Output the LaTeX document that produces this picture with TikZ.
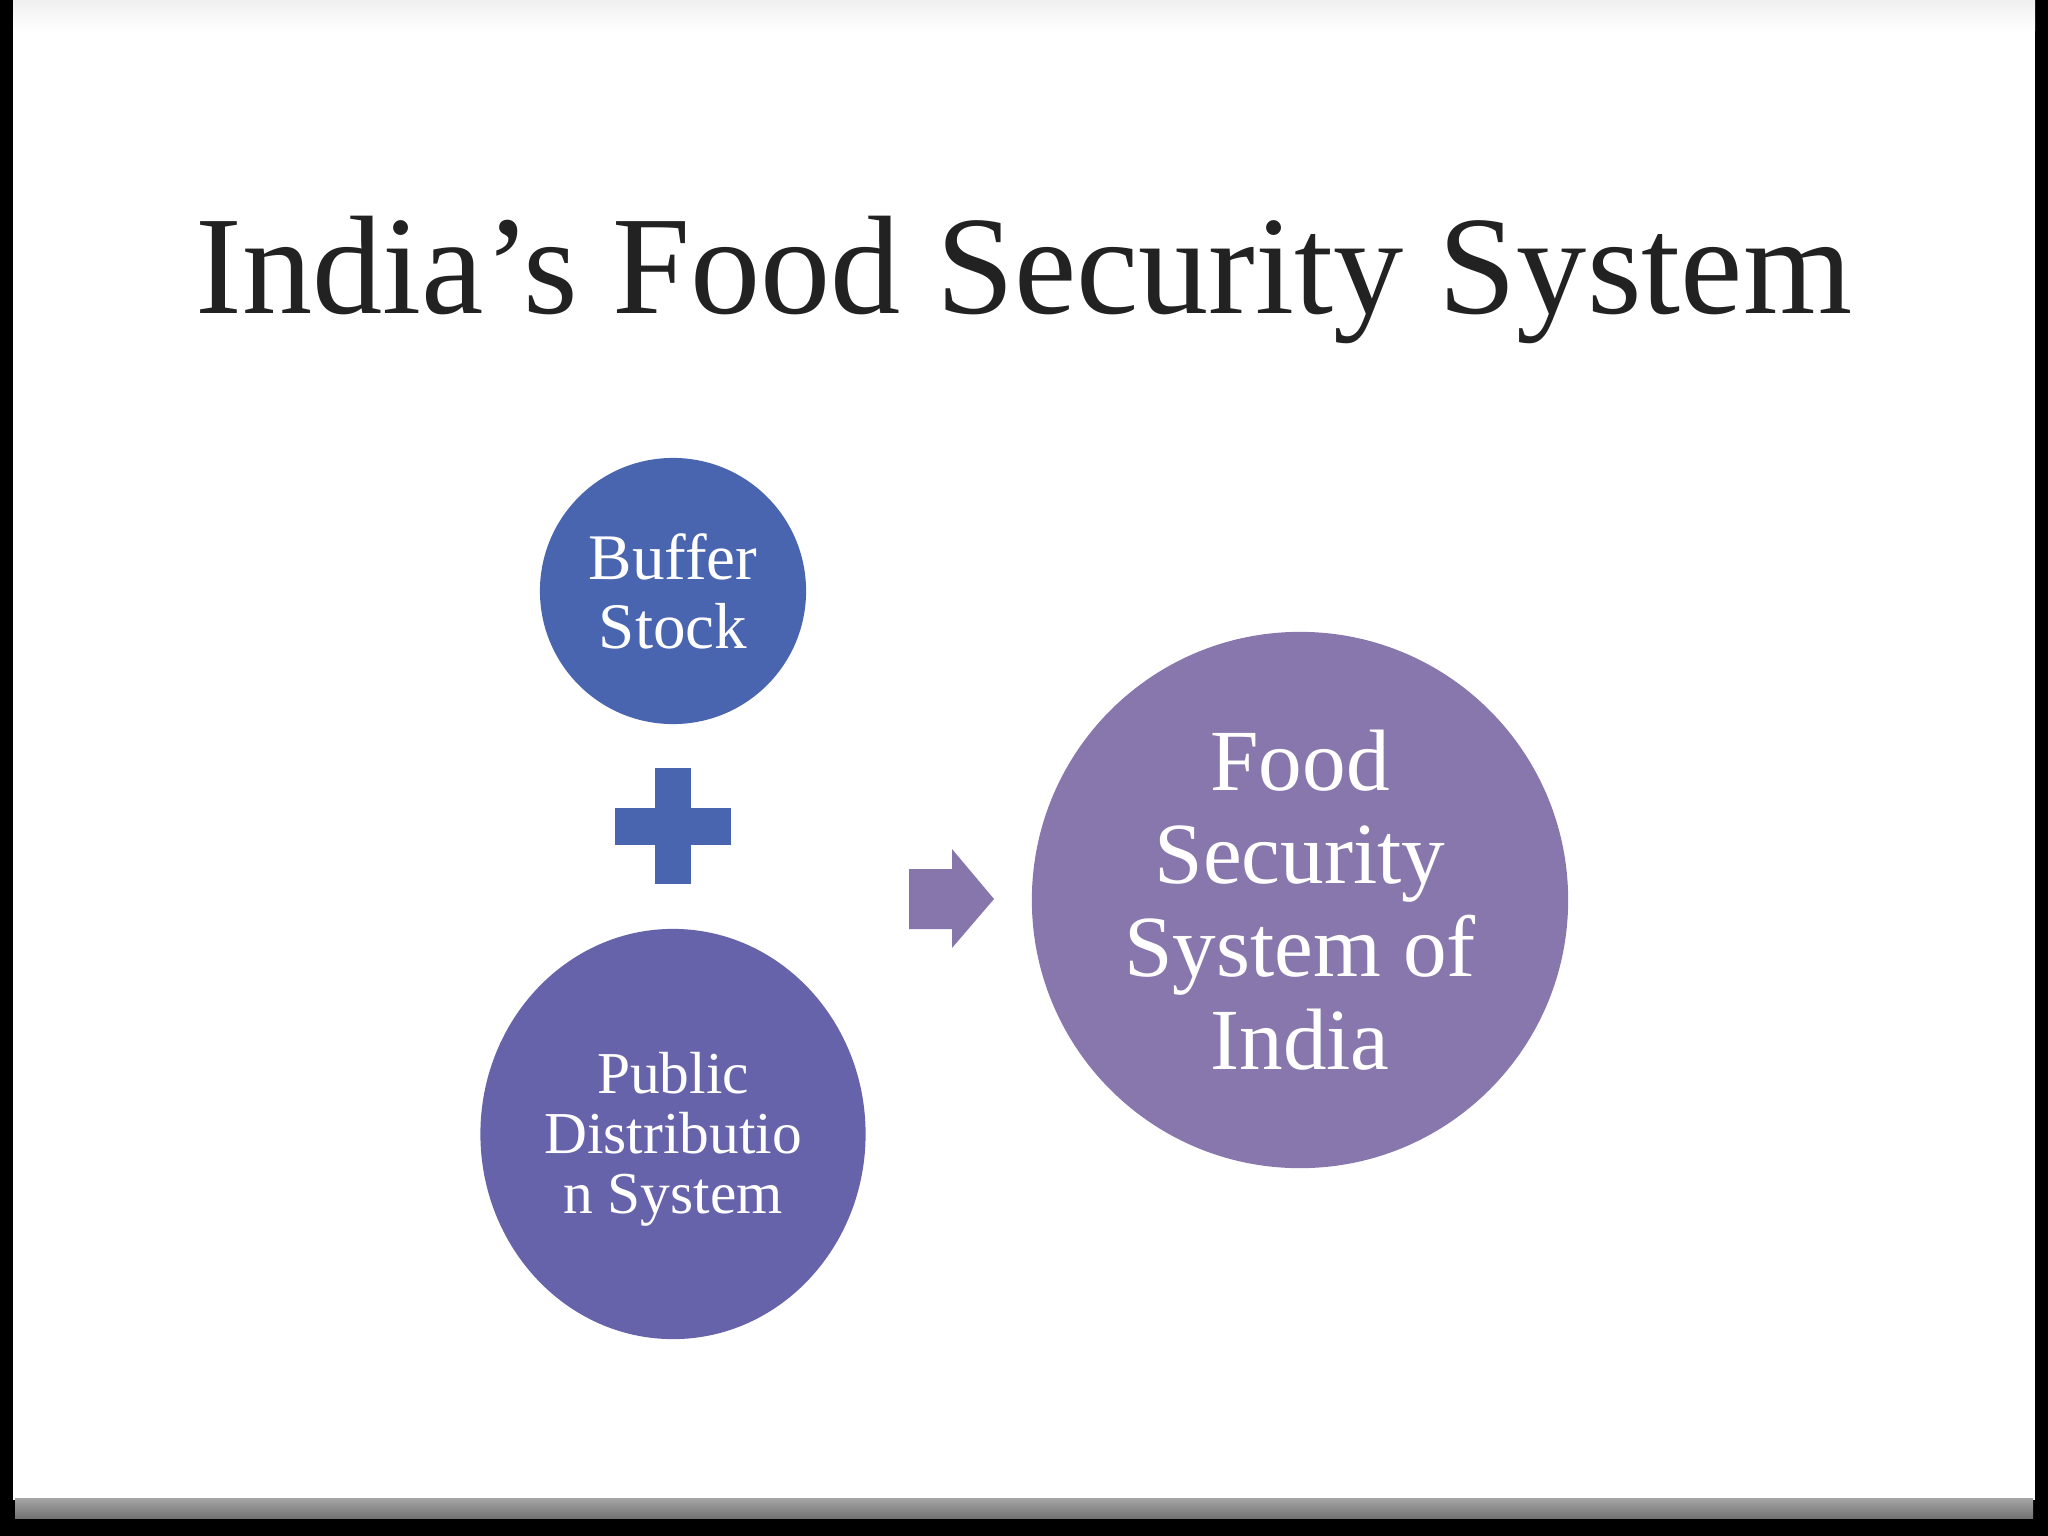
\documentclass[tikz,border=0pt]{standalone}
\usepackage{fontspec}
\setmainfont{Liberation Serif}
\usetikzlibrary{shapes.geometric}
\definecolor{bufblue}{RGB}{74,101,176}
\definecolor{pdsblue}{RGB}{103,99,171}
\definecolor{fsslav}{RGB}{136,119,173}
\definecolor{arrowlav}{RGB}{134,118,172}
\definecolor{titlegray}{RGB}{34,34,34}
\tikzset{
  bubble/.style={fill=#1, text=white, align=center, inner sep=0pt},
}
\begin{document}
\begin{tikzpicture}[x=0.01cm,y=-0.01cm]
\useasboundingbox (0,0) rectangle (2048,1536);
% frame / slide
\fill[black] (0,0) rectangle (2048,1536);
\fill[white] (13,0) rectangle (2035,1500);
\shade[top color=black!6, bottom color=white] (13,0) rectangle (2035,30);
\shade[top color=black!35, bottom color=black!55] (15,1498) rectangle (2033,1518);
% title
\node[anchor=base, text=titlegray, font=\fontsize{39.9}{44}\selectfont, inner sep=0pt] (title) at (1024,313) {India’s Food Security System};
% buffer stock
\node[bubble=bufblue, circle, minimum size=2.66cm, font=\fontsize{18.5}{19.6}\selectfont] (buffer) at (673,591) {Buffer\\Stock};
% plus sign
\fill[bufblue] (655,768) rectangle (691,884);
\fill[bufblue] (615,808) rectangle (731,845);
% public distribution system
\node[bubble=pdsblue, ellipse, minimum width=3.85cm, minimum height=4.10cm] (pds) at (673,1134) {};
\node[text=white, align=center, inner sep=0pt, font=\fontsize{16.9}{17.1}\selectfont, yshift=-0.05cm] (pdstext) at (pds.center) {Public\\Distributio\\n System};
% arrow
\fill[arrowlav] (909,869) -- (952,869) -- (952,849) -- (994,899) -- (952,948) -- (952,929) -- (909,929) -- cycle;
% food security system of india
\node[bubble=fsslav, circle, minimum size=5.36cm, font=\fontsize{24.8}{26.5}\selectfont] (fss) at (1300,900) {Food\\Security\\System of\\India};
\end{tikzpicture}
\end{document}
